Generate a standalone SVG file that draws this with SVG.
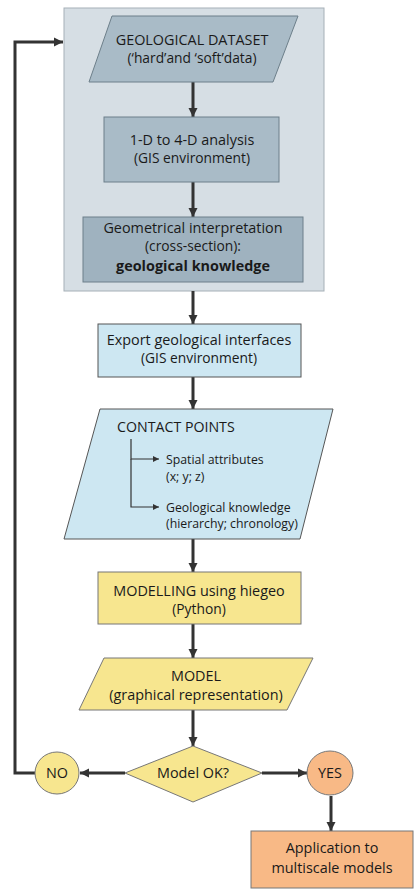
<svg xmlns="http://www.w3.org/2000/svg" width="420" height="896" viewBox="0 0 420 896">
<style>
text{font-family:"Open Sans","Noto Sans",sans-serif;font-size:14.4px;fill:#1a1a1a;text-anchor:middle}
text.sub{font-size:13.8px}
text.small{font-size:12.3px;text-anchor:start}
text.head{font-size:14.2px;text-anchor:start}
text.bold{font-weight:bold}
.edge{stroke:#333;stroke-width:3;fill:none}
.thin{stroke:#333;stroke-width:1.2;fill:none}
.gray{fill:#a9bbc7;stroke:#6d7f8a;stroke-width:1}
.blue{fill:#cde7f2;stroke:#555;stroke-width:1}
.yel{fill:#f7e68f;stroke:#777;stroke-width:1}
.ora{fill:#f8b986;stroke:#777;stroke-width:1}
</style>
<defs>
<marker id="ah" viewBox="0 0 10 10" refX="10" refY="5" markerWidth="9" markerHeight="11" markerUnits="userSpaceOnUse" orient="auto"><path d="M0,0 L10,5 L0,10 z" fill="#333"/></marker>
<marker id="ahs" viewBox="0 0 10 10" refX="10" refY="5" markerWidth="9" markerHeight="6" markerUnits="userSpaceOnUse" orient="auto"><path d="M0,0 L10,5 L0,10 z" fill="#333"/></marker>
</defs>
<g id="panel"><rect x="64" y="8" width="260" height="283" fill="#d6dee4" stroke="#a6b0b7" stroke-width="1"/></g>
<g id="connectors">
<line class="edge" x1="193" y1="82" x2="193" y2="117" marker-end="url(#ah)"/>
<line class="edge" x1="193" y1="182" x2="193" y2="217" marker-end="url(#ah)"/>
<line class="edge" x1="193" y1="291" x2="193" y2="324" marker-end="url(#ah)"/>
<line class="edge" x1="193" y1="377" x2="193" y2="409" marker-end="url(#ah)"/>
<line class="edge" x1="193" y1="539" x2="193" y2="572" marker-end="url(#ah)"/>
<line class="edge" x1="193" y1="624" x2="193" y2="658" marker-end="url(#ah)"/>
<line class="edge" x1="193" y1="710" x2="193" y2="746" marker-end="url(#ah)"/>
<line class="edge" x1="125" y1="773" x2="80" y2="773" marker-end="url(#ah)"/>
<line class="edge" x1="262" y1="773" x2="307" y2="773" marker-end="url(#ah)"/>
<line class="edge" x1="331" y1="796" x2="331" y2="831" marker-end="url(#ah)"/>
<polyline class="edge" points="35,773 15,773 15,42 63,42" marker-end="url(#ah)"/>
</g>
<g id="n1"><polygon class="gray" points="112,16 298,16 273,82 89,82"/><text x="192" y="45">GEOLOGICAL DATASET</text><text class="sub" x="192" y="63">(‘hard’and ‘soft’data)</text></g>
<g id="n2"><rect class="gray" x="104" y="117" width="175" height="65"/><text x="192" y="145">1-D to 4-D analysis</text><text class="sub" x="192" y="163">(GIS environment)</text></g>
<g id="n3"><rect x="83" y="217" width="220" height="65" fill="#9fb2bf" stroke="#6d7f8a" stroke-width="1"/><text x="193" y="233">Geometrical interpretation</text><text class="sub" x="193" y="251">(cross-section):</text><text class="bold" x="193" y="271">geological knowledge</text></g>
<g id="n4"><rect class="blue" x="98" y="324" width="203" height="53"/><text x="199" y="345">Export geological interfaces</text><text class="sub" x="199" y="363">(GIS environment)</text></g>
<g id="n5"><polygon class="blue" points="100,409 333,409 300,539 64,539" stroke-width="0.8"/><text class="head" x="117" y="432">CONTACT POINTS</text>
<polyline class="thin" points="131,439 131,459 159,459" marker-end="url(#ahs)"/><polyline class="thin" points="131,459 131,507 159,507" marker-end="url(#ahs)"/>
<text class="small" x="166" y="464">Spatial attributes</text><text class="small" x="166" y="481">(x; y; z)</text><text class="small" x="166" y="512">Geological knowledge</text><text class="small" x="166" y="528">(hierarchy; chronology)</text></g>
<g id="n6"><rect class="yel" x="98" y="572" width="203" height="52"/><text x="199" y="596">MODELLING using hiegeo</text><text class="sub" x="199" y="614">(Python)</text></g>
<g id="n7"><polygon class="yel" points="104,658 313,658 287,710 79,710"/><text x="196" y="681">MODEL</text><text x="196" y="700">(graphical representation)</text></g>
<g id="n8"><polygon class="yel" points="193,746 262,773 193,802 125,773"/><text x="193" y="778">Model OK?</text></g>
<g id="no"><ellipse class="yel" cx="57" cy="773" rx="22" ry="21"/><text x="57" y="778">NO</text></g>
<g id="yes"><ellipse class="ora" cx="330" cy="773" rx="23" ry="22"/><text x="330" y="778">YES</text></g>
<g id="n9"><rect class="ora" x="251" y="831" width="162" height="57"/><text x="332" y="853">Application to</text><text x="332" y="873">multiscale models</text></g>
</svg>
